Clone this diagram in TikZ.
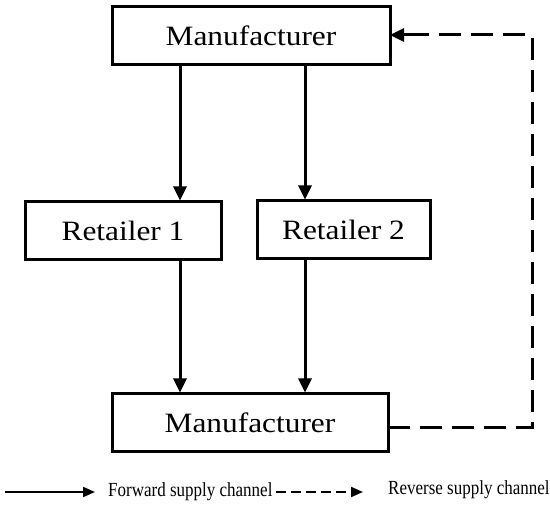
\documentclass[tikz,border=0pt]{standalone}
\usepackage{fontspec}
\setmainfont{Liberation Serif}
\newfontfamily\boxfont[FakeStretch=1.12]{Liberation Serif}
\newfontfamily\legfont[FakeStretch=0.85]{Liberation Serif}
\usetikzlibrary{arrows.meta}
\begin{document}
\begin{tikzpicture}[x=1pt,y=-1pt,
  box/.style={draw,line width=3pt,rectangle,minimum height=58pt,inner sep=0pt,
    font=\boxfont\fontsize{28}{30}\selectfont},
  arr/.style={line width=3pt,-{Triangle[length=14pt,width=13pt]}},
  rev/.style={line width=3pt,dash pattern=on 22pt off 10pt},
  revarr/.style={rev,-{Triangle[length=14pt,width=13pt]}},
  legtext/.style={font=\legfont\fontsize{20}{24}\selectfont,inner sep=0pt,anchor=west},
  legarr/.style={line width=2pt,-{Triangle[length=12pt,width=10pt]}},
  legdash/.style={line width=2pt,dash pattern=on 10pt off 5pt,-{Triangle[length=12pt,width=10pt]}}]
\useasboundingbox (0,0) rectangle (550,508);
\node[box,minimum width=278pt] (top) at (251,36) {Manufacturer};
\node[box,minimum width=196pt] (r1) at (123,231) {Retailer 1};
\node[box,minimum width=173pt] (r2) at (343.5,230) {Retailer 2};
\node[box,minimum width=276pt] (bot) at (250,423) {Manufacturer};
\coordinate (xl) at (180,0);
\coordinate (xr) at (305,0);
\draw[arr] (top.south -| xl) -- (r1.north -| xl);
\draw[arr] (top.south -| xr) -- (r2.north -| xr);
\draw[arr] (r1.south -| xl) -- (bot.north -| xl);
\draw[arr] (r2.south -| xr) -- (bot.north -| xr);
\coordinate (bp) at (388,428);
\coordinate (c1) at (532,428);
\coordinate (c2) at (532,35);
\coordinate (tp) at (390,35);
\draw[rev] (bp) -- (c1) -- (c2) -- ([xshift=14pt]tp);
\draw[revarr] ([xshift=20pt]tp) -- (tp);
% legend
\coordinate (l1s) at (5,492);
\coordinate (l1e) at (95,492);
\node[legtext] (fwd) at (108,492) {Forward supply channel};
\draw[legarr] (l1s) -- (l1e);
\coordinate (l2s) at (276,492);
\coordinate (l2e) at (363,492);
\node[legtext] (revt) at (388,490) {Reverse supply channel};
\draw[legdash] (l2s) -- (l2e);
\end{tikzpicture}
\end{document}
